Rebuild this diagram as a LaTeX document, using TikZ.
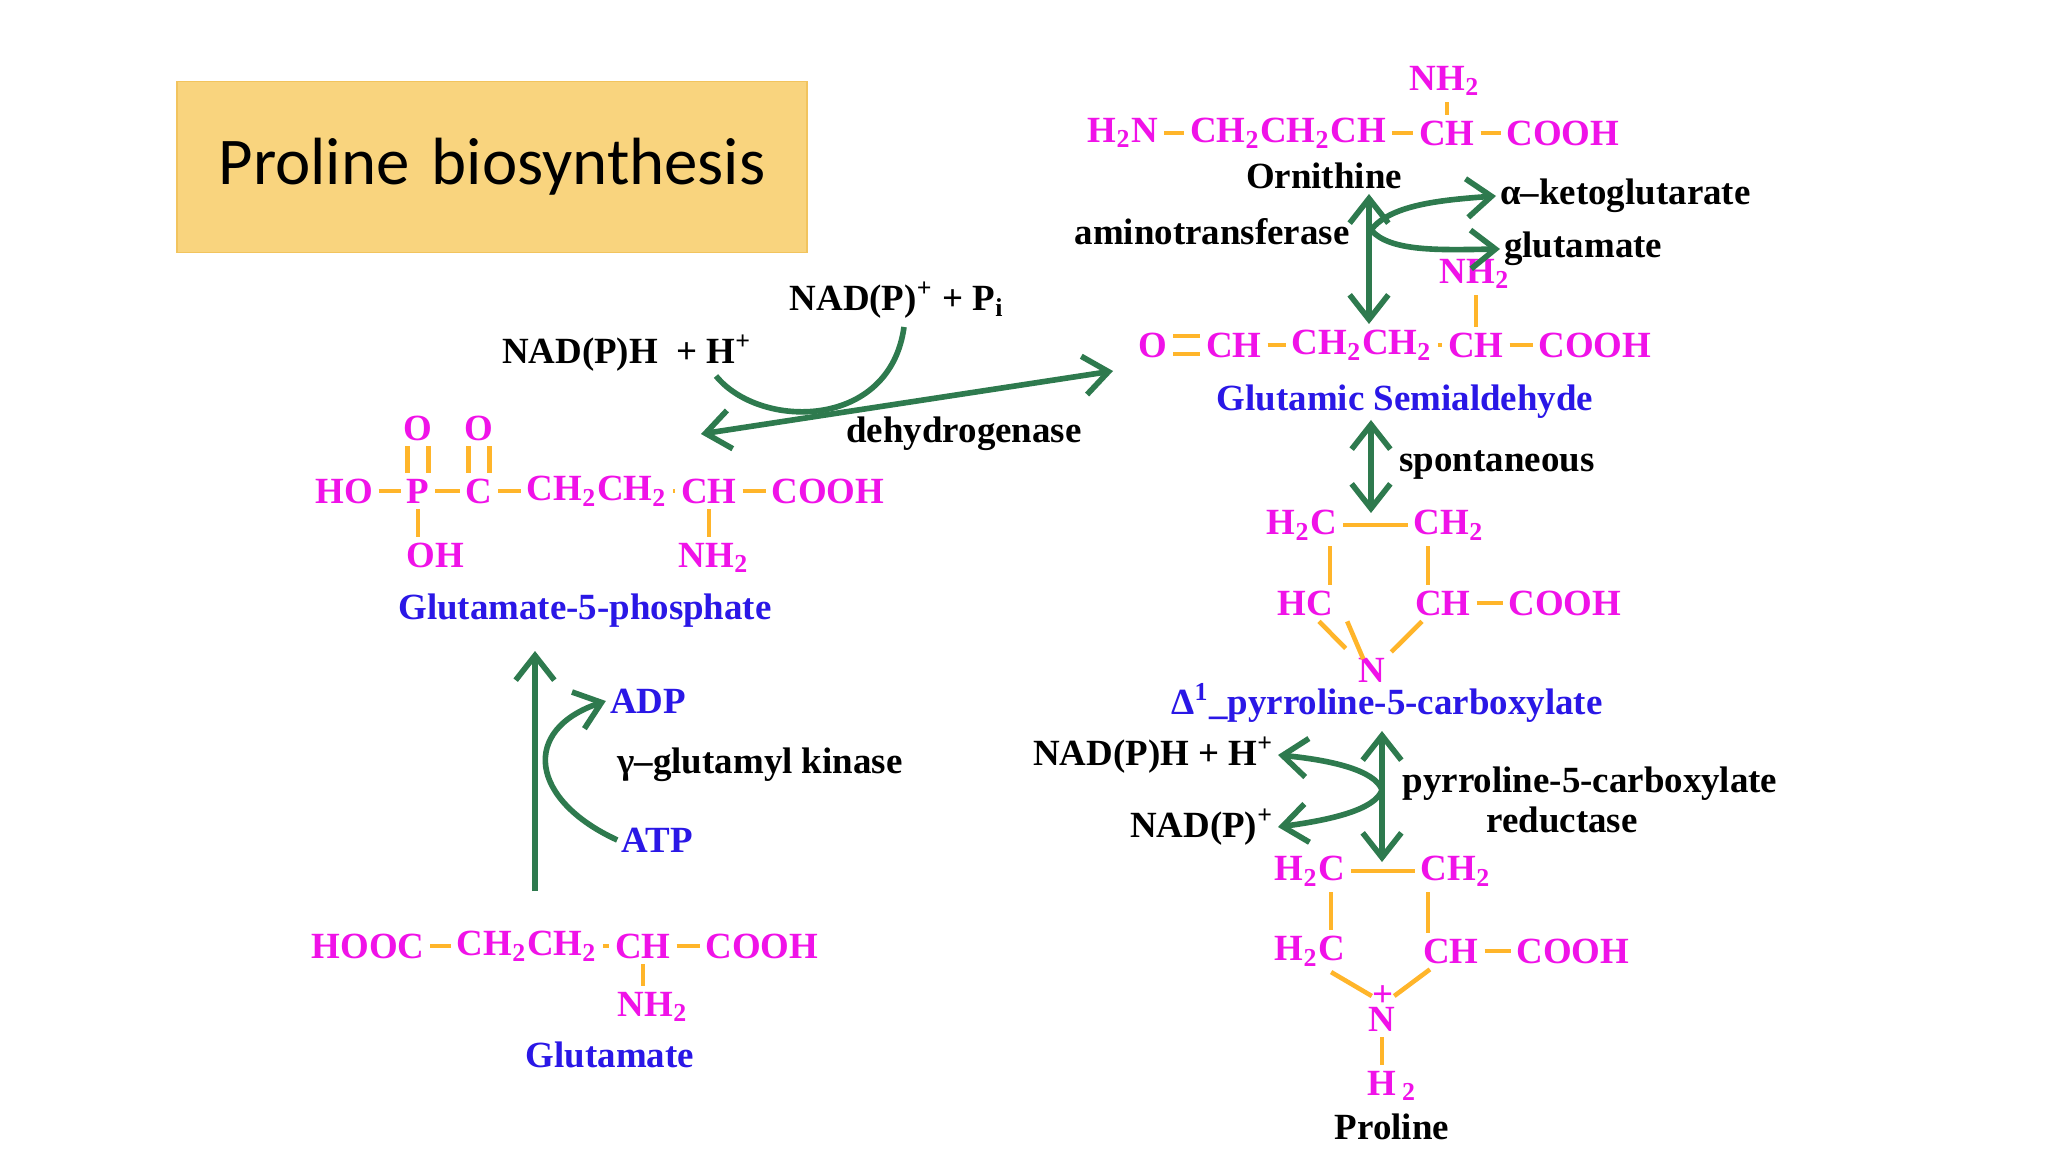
\documentclass[tikz,border=0pt]{standalone}
\usepackage{fontspec}
\setmainfont{Liberation Serif}
\newfontfamily\titlefont{Carlito}
\usetikzlibrary{arrows.meta}
\definecolor{mag}{HTML}{F012E8}
\definecolor{bnd}{HTML}{FFB52A}
\definecolor{blu}{HTML}{2A17E6}
\definecolor{grn}{HTML}{2E7A4E}
\definecolor{tfill}{HTML}{F9D47E}
\definecolor{tline}{HTML}{F2C45E}
\begin{document}
\begin{tikzpicture}[x=0.01cm,y=-0.01cm,
  atm/.style={text=mag,font=\bfseries\fontsize{10.5}{12}\selectfont,inner sep=1.5pt},
  lab/.style={text=black,font=\bfseries\fontsize{10.5}{12}\selectfont,inner sep=1pt},
  blab/.style={text=blu,font=\bfseries\fontsize{10.5}{12}\selectfont,inner sep=1pt},
  bond/.style={draw=bnd,line width=1.3pt},
  rx/.style={draw=grn,line width=1.6pt},
  tip/.style={-{Straight Barb[length=7pt,width=11pt,line width=1.6pt]}},
  tips/.style={{Straight Barb[length=7pt,width=11pt,line width=1.6pt]}-{Straight Barb[length=7pt,width=11pt,line width=1.6pt]}}]
\useasboundingbox[fill=white] (0,0) rectangle (2048,1152);
% title
\node[draw=tline,fill=tfill,text width=6.3cm,minimum height=1.71cm,inner sep=0pt,align=center,font=\titlefont\fontsize{19}{22}\selectfont] (title) at (492,167) {Proline biosynthesis};
% Ornithine
\node[atm] (o1) at (1123,133) {H\textsubscript{2}N};
\node[atm] (o2) at (1288,133) {CH\textsubscript{2}CH\textsubscript{2}CH};
\node[atm] (o3) at (1447,133) {CH};
\node[atm] (o4) at (1563,133) {COOH};
\node[atm] (on) at (1445,81) {NH\textsubscript{2}};
\draw[bond] (o1.east) -- (o2.west);
\draw[bond] (o2.east) -- (o3.west);
\draw[bond] (o3.east) -- (o4.west);
\draw[bond] (o3.north) -- (o3.north |- on.south);
\node[lab] (orn) at (1324,176) {Ornithine};
% Glutamic semialdehyde
\node[atm] (g0) at (1153,345) {O};
\node[atm] (g1) at (1234,345) {CH};
\node[atm] (g2) at (1362,345) {CH\textsubscript{2}CH\textsubscript{2}};
\node[atm] (g3) at (1476,345) {CH};
\node[atm] (g4) at (1595,345) {COOH};
\node[atm] (gn) at (1475,274) {NH\textsubscript{2}};
\draw[bond] ([yshift=-2.5]g0.east) -- ([yshift=-2.5]g1.west);
\draw[bond] ([yshift=2.5]g0.east) -- ([yshift=2.5]g1.west);
\draw[bond] (g1.east) -- (g2.west);
\draw[bond] (g2.east) -- (g3.west);
\draw[bond] (g3.east) -- (g4.west);
\draw[bond] (g3.north) -- (g3.north |- gn.south);
\node[blab] (gsa) at (1405,402) {Glutamic Semialdehyde};
% aminotransferase
\node[lab] (amt) at (1212,232) {aminotransferase};
\node[lab,anchor=west] (akg) at (1496,196) {α–ketoglutarate};
\node[lab,anchor=west] (glu2) at (1500,249) {glutamate};
\coordinate (ta) at (1369,194);
\coordinate (tb) at (1369,324);
\draw[rx,tips] (ta) -- (tb);
\coordinate (tm) at (1371,230);
\draw[rx,tip] (tm) .. controls (1390,205) and (1440,200) .. (akg.west);
\draw[rx,tip] (tm) .. controls (1390,252) and (1440,250) .. (glu2.west);
% spontaneous
\coordinate (sa) at (1371,420);
\coordinate (sb) at (1371,513);
\draw[rx,tips] (sa) -- (sb);
\node[lab] (spo) at (1497,465) {spontaneous};
% P5C ring
\node[atm] (p1) at (1302,525) {H\textsubscript{2}C};
\node[atm] (p2) at (1449,525) {CH\textsubscript{2}};
\node[atm] (p3) at (1305,603) {HC};
\node[atm] (p4) at (1443,603) {CH};
\node[atm] (p5) at (1565,603) {COOH};
\node[atm] (pN) at (1372,670) {N};
\draw[bond] (p1.east) -- (p2.west);
\draw[bond] ([xshift=8]p1.south) -- ([xshift=8]p1.south |- p3.north);
\draw[bond] ([xshift=-6]p2.south) -- ([xshift=-6]p2.south |- p4.north);
\draw[bond] (p4.east) -- (p5.west);
\draw[bond] ([xshift=4]p3.south) -- ([xshift=-2,yshift=1]pN.north west);
\draw[bond] ([xshift=12]p3.south) -- ([xshift=3,yshift=-2]pN.north west);
\draw[bond] ([xshift=-6]p4.south) -- (pN.north east);
\node[blab] (p5c) at (1387,703) {Δ\textsuperscript{1}\_pyrroline-5-carboxylate};
% reductase
\coordinate (ra) at (1382,731);
\coordinate (rb) at (1382,862);
\draw[rx,tips] (ra) -- (rb);
\coordinate (rm) at (1382,790);
\node[lab,anchor=east] (nh2) at (1278,755) {NAD(P)H + H\textsuperscript{+}};
\node[lab,anchor=east] (np2) at (1278,827) {NAD(P)\textsuperscript{+}};
\draw[rx,tip] (rm) .. controls (1375,770) and (1330,760) .. (nh2.east);
\draw[rx,tip] (rm) .. controls (1375,810) and (1330,820) .. (np2.east);
\node[lab] (red1) at (1590,784) {pyrroline-5-carboxylate};
\node[lab] (red2) at (1562,820) {reductase};
% Proline ring
\node[atm] (q1) at (1310,871) {H\textsubscript{2}C};
\node[atm] (q2) at (1456,871) {CH\textsubscript{2}};
\node[atm] (q3) at (1310,951) {H\textsubscript{2}C};
\node[atm] (q4) at (1451,951) {CH};
\node[atm] (q5) at (1573,951) {COOH};
\node[atm] (qN) at (1382,1019) {N};
\node[atm,inner sep=0pt] (qP) at (1383,996) {+};
\node[atm] (qH) at (1392,1086) {H\,\textsubscript{2}};
\draw[bond] (q1.east) -- (q2.west);
\draw[bond] ([xshift=6]q1.south) -- ([xshift=6]q1.south |- q3.north);
\draw[bond] ([xshift=-8]q2.south) -- ([xshift=-8]q2.south |- q4.north);
\draw[bond] (q4.east) -- (q5.west);
\draw[bond] ([xshift=6]q3.south) -- (qP.west);
\draw[bond] ([xshift=-6]q4.south) -- (qP.east);
\draw[bond] (qN.south) -- (qN.south |- qH.north);
\node[lab] (pro) at (1392,1127) {Proline};
% Glutamate-5-phosphate
\node[atm] (f0) at (344,491) {HO};
\node[atm] (f1) at (418,491) {P};
\node[atm] (f2) at (479,491) {C};
\node[atm] (f3) at (597,491) {CH\textsubscript{2}CH\textsubscript{2}};
\node[atm] (f4) at (709,491) {CH};
\node[atm] (f5) at (828,491) {COOH};
\node[atm] (fo1) at (418,428) {O};
\node[atm] (fo2) at (479,428) {O};
\node[atm] (foh) at (435,555) {OH};
\node[atm] (fn) at (714,558) {NH\textsubscript{2}};
\draw[bond] (f0.east) -- (f1.west);
\draw[bond] (f1.east) -- (f2.west);
\draw[bond] (f2.east) -- (f3.west);
\draw[bond] (f3.east) -- (f4.west);
\draw[bond] (f4.east) -- (f5.west);
\draw[bond] ([xshift=-3]f1.north) -- ([xshift=-3]fo1.south);
\draw[bond] ([xshift=3]f1.north) -- ([xshift=3]fo1.south);
\draw[bond] ([xshift=-3]f2.north) -- ([xshift=-3]fo2.south);
\draw[bond] ([xshift=3]f2.north) -- ([xshift=3]fo2.south);
\draw[bond] (f1.south) -- (f1.south |- foh.north);
\draw[bond] (f4.south) -- (f4.south |- fn.north);
\node[blab] (g5p) at (585,611) {Glutamate-5-phosphate};
% dehydrogenase
\coordinate (dA) at (1113,371);
\coordinate (dB) at (701,434);
\draw[rx,tips] (dB) -- (dA);
\node[lab] (dnh) at (627,353) {NAD(P)H \ + H\textsuperscript{+}};
\node[lab] (dnp) at (897,300) {NAD(P)\textsuperscript{+} + P\textsubscript{i}};
\node[lab] (deh) at (964,434) {dehydrogenase};
\coordinate (d1) at (716,376);
\coordinate (d2) at (904,327);
\draw[rx] (d1) .. controls (760,430) and (890,430) .. (d2);
% kinase
\coordinate (ka) at (535,891);
\coordinate (kb) at (535,651);
\draw[rx,tip] (ka) -- (kb);
\node[blab] (adp) at (648,701) {ADP};
\node[blab] (atp) at (657,840) {ATP};
\node[lab] (kin) at (760,765) {γ–glutamyl kinase};
\draw[rx,tip] (atp.west) .. controls (530,800) and (520,730) .. (adp.west);
% Glutamate
\node[atm] (e1) at (368,946) {HOOC};
\node[atm] (e2) at (527,946) {CH\textsubscript{2}CH\textsubscript{2}};
\node[atm] (e3) at (643,946) {CH};
\node[atm] (e4) at (762,946) {COOH};
\node[atm] (en) at (653,1007) {NH\textsubscript{2}};
\draw[bond] (e1.east) -- (e2.west);
\draw[bond] (e2.east) -- (e3.west);
\draw[bond] (e3.east) -- (e4.west);
\draw[bond] (e3.south) -- (e3.south |- en.north);
\node[blab] (glu) at (610,1055) {Glutamate};
\end{tikzpicture}
\end{document}
